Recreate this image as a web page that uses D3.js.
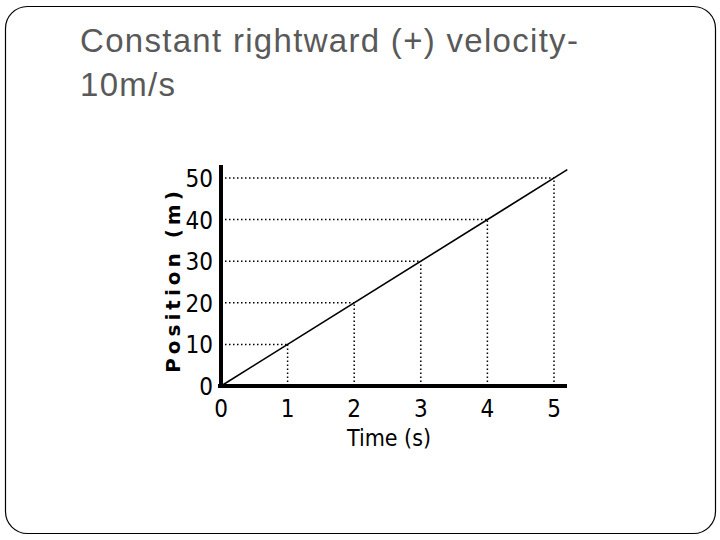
<!DOCTYPE html>
<html>
<head>
<meta charset="utf-8">
<script src="https://cdn.jsdelivr.net/npm/d3@7"></script>
<style>
  body { margin: 0; background: #fff; }
</style>
</head>
<body>
<div id="chart"></div>
<script>
// data
var times = [0, 1, 2, 3, 4, 5];
var positions = [0, 10, 20, 30, 40, 50];
var lineEnd = [5.2, 52];
var xTicks = [0, 1, 2, 3, 4, 5];
var yTicks = [0, 10, 20, 30, 40, 50];
var titleLines = ['Constant rightward (+) velocity-', '10m/s'];

var svg = d3.select('#chart').append('svg')
  .attr('width', 720)
  .attr('height', 540);

// slide frame
svg.append('rect')
  .attr('x', 5.5).attr('y', 6.5)
  .attr('width', 710).attr('height', 527)
  .attr('rx', 22).attr('ry', 22)
  .attr('fill', 'none')
  .attr('stroke', '#000')
  .attr('stroke-width', 1.2);

svg.selectAll('text.title').data(titleLines)
  .enter().append('text')
  .attr('class', 'title')
  .attr('x', 80)
  .attr('y', function (d, i) { return 52 + i * 44; })
  .attr('font-family', 'Liberation Sans, Arial, sans-serif')
  .attr('font-size', 33)
  .attr('letter-spacing', 1.3)
  .attr('fill', '#595959')
  .text(function (d) { return d; });

var x = d3.scaleLinear().domain([0, 5]).range([221, 554]);
var y = d3.scaleLinear().domain([0, 50]).range([386, 178]);

var pts = times.map(function (t, i) { return {t: t, p: positions[i]}; });

// dotted guides
svg.selectAll('line.hguide').data(pts.filter(function (d) { return d.p > 0; }))
  .enter().append('line')
  .attr('x1', x(0)).attr('y1', function (d) { return y(d.p); })
  .attr('x2', function (d) { return x(d.t); }).attr('y2', function (d) { return y(d.p); })
  .attr('stroke', '#000').attr('stroke-width', 1.5)
  .attr('stroke-dasharray', '1.5,2.5');

svg.selectAll('line.vguide').data(pts.filter(function (d) { return d.t > 0; }))
  .enter().append('line')
  .attr('x1', function (d) { return x(d.t); }).attr('y1', y(0))
  .attr('x2', function (d) { return x(d.t); }).attr('y2', function (d) { return y(d.p); })
  .attr('stroke', '#000').attr('stroke-width', 1.5)
  .attr('stroke-dasharray', '1.5,2.5');

// position line
svg.append('line')
  .attr('x1', x(0)).attr('y1', y(0))
  .attr('x2', x(lineEnd[0])).attr('y2', y(lineEnd[1]))
  .attr('stroke', '#000').attr('stroke-width', 1.6);

// axes
svg.append('line')
  .attr('x1', x(0)).attr('y1', y(0) + 2)
  .attr('x2', x(0)).attr('y2', 165)
  .attr('stroke', '#000').attr('stroke-width', 4);
svg.append('line')
  .attr('x1', 218).attr('y1', y(0))
  .attr('x2', 567).attr('y2', y(0))
  .attr('stroke', '#000').attr('stroke-width', 4);

var tickFont = 'DejaVu Sans Condensed, DejaVu Sans, sans-serif';

svg.selectAll('text.xtick').data(xTicks)
  .enter().append('text')
  .attr('x', function (d) { return x(d); })
  .attr('y', 417)
  .attr('text-anchor', 'middle')
  .attr('font-family', tickFont)
  .attr('font-size', 24)
  .text(function (d) { return d; });

svg.selectAll('text.ytick').data(yTicks)
  .enter().append('text')
  .attr('x', 213)
  .attr('y', function (d) { return y(d) + 9; })
  .attr('text-anchor', 'end')
  .attr('font-family', tickFont)
  .attr('font-size', 24)
  .text(function (d) { return d; });

svg.append('text')
  .attr('x', 389).attr('y', 446)
  .attr('text-anchor', 'middle')
  .attr('font-family', tickFont)
  .attr('font-size', 23)
  .text('Time (s)');

svg.append('text')
  .attr('transform', 'translate(180,280) rotate(-90)')
  .attr('text-anchor', 'middle')
  .attr('font-family', 'DejaVu Sans, sans-serif')
  .attr('font-size', 20)
  .attr('font-weight', 'bold')
  .attr('letter-spacing', 4)
  .text('Position (m)');
</script>
</body>
</html>
